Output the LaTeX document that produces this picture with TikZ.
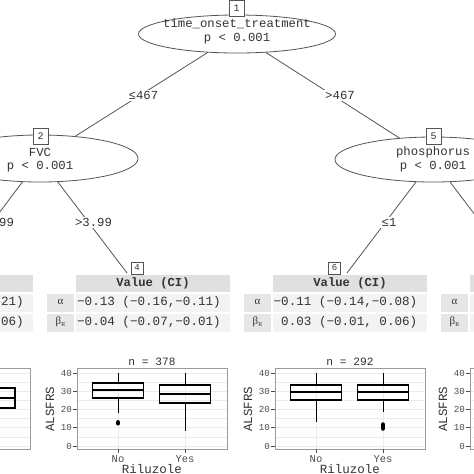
\documentclass[tikz,border=0pt]{standalone}
\usepackage{fontspec}
\setmainfont{Liberation Mono}
\newfontfamily\grk{Liberation Serif}
\usetikzlibrary{shapes.geometric}
\definecolor{ink}{HTML}{333333}
\definecolor{edgec}{HTML}{555555}
\definecolor{hdr}{HTML}{E0E0E0}
\definecolor{labc}{HTML}{E6E6E6}
\definecolor{cellc}{HTML}{F3F3F3}
\definecolor{gridc}{HTML}{EBEBEB}
\definecolor{framec}{HTML}{9A9A9A}
\definecolor{tickc}{HTML}{4D4D4D}
\newcommand\gridpanel[1]{%
 \begin{scope}[xshift=#1pt]
  \fill[white] (77,368) rectangle (227,449);
  \foreach \v in {5,15,25,35} \draw[minorgrid] (77,{446-1.825*\v}) -- (227,{446-1.825*\v});
  \foreach \v in {0,10,...,40} \draw[majorgrid] (77,{446-1.825*\v}) -- (227,{446-1.825*\v});
  \draw[majorgrid] (118,368) -- (118,449);
  \draw[majorgrid] (185,368) -- (185,449);
  \draw[framec,line width=0.8pt] (77,368) rectangle (227,449);
  \foreach \v in {0,10,...,40} \draw[tickln] (73,{446-1.825*\v}) -- (77,{446-1.825*\v});
  \draw[tickln] (118,449) -- (118,453);
  \draw[tickln] (185,449) -- (185,453);
 \end{scope}}
\newcommand\ytlabels[2]{%
  \foreach \v in {0,10,...,40} \node[ticklab,anchor=east] (#1\v) at (#2,{446-1.825*\v}) {\v};}
\begin{document}
\begin{tikzpicture}[x=1pt,y=-1pt,
  inner/.style={ellipse,draw=edgec,line width=0.8pt,inner sep=0pt},
  idbox/.style={draw=edgec,line width=0.8pt,fill=white,inner sep=0pt,text=ink,font=\fontsize{10}{10}\selectfont,minimum width=15pt,minimum height=16pt},
  tidbox/.style={draw=edgec,line width=0.8pt,fill=white,inner sep=0pt,text=ink,font=\fontsize{9}{9}\selectfont,minimum width=12pt,minimum height=12pt},
  treetxt/.style={text=ink,font=\fontsize{12.3}{14}\selectfont,inner sep=0pt},
  edgelab/.style={fill=white,text=ink,font=\fontsize{12.3}{14}\selectfont,inner sep=1.5pt},
  conn/.style={draw=edgec,line width=0.8pt},
  valtxt/.style={text=ink,font=\fontsize{12.6}{14}\selectfont,inner sep=0pt},
  hdrtxt/.style={text=ink,font=\fontsize{12.2}{14}\bfseries\selectfont,inner sep=0pt},
  grktxt/.style={text=ink,font=\grk\fontsize{11}{12}\selectfont,inner sep=0pt},
  minorgrid/.style={draw=gridc,line width=0.4pt},
  majorgrid/.style={draw=gridc,line width=0.8pt},
  tickln/.style={draw=tickc,line width=0.8pt},
  ticklab/.style={text=tickc,font=\fontsize{9.2}{10}\selectfont,inner sep=0pt},
  axtitle/.style={text=ink,font=\fontsize{12.5}{13}\selectfont,inner sep=0pt},
  xlab/.style={text=tickc,font=\fontsize{10.5}{11}\selectfont,inner sep=0pt},
  ptitle/.style={text=ink,font=\fontsize{11.2}{12}\selectfont,inner sep=0pt},
  bx/.style={draw=black,line width=1.1pt},
  wh/.style={draw=black,line width=0.9pt},
  med/.style={draw=black,line width=2.2pt},
  outl/.style={draw=black,line width=4.5pt,line cap=round}]
\useasboundingbox (0,0) rectangle (474,474);
\fill[white] (0,0) rectangle (474,474);

% ---------- inner nodes ----------
\node[inner,minimum width=197pt,minimum height=38pt] (n1) at (237,34) {};
\node[inner,minimum width=196pt,minimum height=47pt] (n2) at (40,158.5) {};
\node[inner,minimum width=196pt,minimum height=45pt] (n5) at (433,159.5) {};
\coordinate (e3) at (-46,273);
\coordinate (e4) at (127,273);
\coordinate (e6) at (347,273);
\coordinate (e7) at (519,273);

% ---------- connectors ----------
\draw[conn] (n1) -- (n2);
\draw[conn] (n1) -- (n5);
\draw[conn] (n2) -- (e3);
\draw[conn] (n2) -- (e4);
\draw[conn] (n5) -- (e6);
\draw[conn] (n5) -- (e7);

% ---------- node texts ----------
\node[treetxt] (t1a) at (237,24) {time\_onset\_treatment};
\node[treetxt] (t1b) at (237,38.5) {p < 0.001};
\node[treetxt] (t2a) at (40,152) {FVC};
\node[treetxt] (t2b) at (40,167) {p < 0.001};
\node[treetxt] (t5a) at (433,152.5) {phosphorus};
\node[treetxt] (t5b) at (433,167) {p < 0.001};

% ---------- id boxes ----------
\node[idbox] (b1) at (236.5,8) {1};
\node[idbox] (b2) at (40.5,136) {2};
\node[idbox] (b5) at (433.5,136) {5};
\node[tidbox] (b4) at (137,268) {4};
\node[tidbox] (b6) at (334.5,268) {6};

% ---------- edge labels ----------
\node[edgelab] (l1) at (143.5,95.5) {≤467};
\node[edgelab] (l2) at (340,95.5) {>467};
\node[edgelab] (l3) at (-4.5,222.5) {≤3.99};
\node[edgelab] (l4) at (93.5,222.5) {>3.99};
\node[edgelab] (l5) at (389,222.5) {≤1};

% ---------- tables ----------
% table 3 (partial)
\fill[hdr] (-121,274.5) rectangle (33,292);
\fill[cellc] (-121,293.5) rectangle (33,311.5);
\fill[cellc] (-121,313.5) rectangle (33,331.5);
\node[valtxt,anchor=east] (v3a) at (24,302) {21)};
\node[valtxt,anchor=east] (v3b) at (24,322) {06)};
% table 4
\fill[hdr] (76,274.5) rectangle (230,292);
\fill[labc] (47,293.5) rectangle (74,311.5);
\fill[labc] (47,313.5) rectangle (74,331.5);
\fill[cellc] (76,293.5) rectangle (230,311.5);
\fill[cellc] (76,313.5) rectangle (230,331.5);
\node[hdrtxt] (h4) at (153,283.5) {Value (CI)};
\node[grktxt] (a4) at (60.5,302) {α};
\node[grktxt] (r4) at (60.5,322) {β\raisebox{-1.5pt}{\fontsize{6}{6}\selectfont R}};
\node[valtxt,anchor=east] (v4a) at (221,302) {−0.13 (−0.16,−0.11)};
\node[valtxt,anchor=east] (v4b) at (221,322) {−0.04 (−0.07,−0.01)};
% table 6
\fill[hdr] (273,274.5) rectangle (427,292);
\fill[labc] (244,293.5) rectangle (271,311.5);
\fill[labc] (244,313.5) rectangle (271,331.5);
\fill[cellc] (273,293.5) rectangle (427,311.5);
\fill[cellc] (273,313.5) rectangle (427,331.5);
\node[hdrtxt] (h6) at (350,283.5) {Value (CI)};
\node[grktxt] (a6) at (257.5,302) {α};
\node[grktxt] (r6) at (257.5,322) {β\raisebox{-1.5pt}{\fontsize{6}{6}\selectfont R}};
\node[valtxt,anchor=east] (v6a) at (417.5,302) {−0.11 (−0.14,−0.08)};
\node[valtxt,anchor=east] (v6b) at (417.5,322) {0.03 (−0.01, 0.06)};
% table 7 (partial)
\fill[hdr] (470,274.5) rectangle (624,292);
\fill[labc] (441,293.5) rectangle (468,311.5);
\fill[labc] (441,313.5) rectangle (468,331.5);
\fill[cellc] (470,293.5) rectangle (624,311.5);
\fill[cellc] (470,313.5) rectangle (624,331.5);
\node[grktxt] (a7) at (454.5,302) {α};
\node[grktxt] (r7) at (454.5,322) {β\raisebox{-1.5pt}{\fontsize{6}{6}\selectfont R}};

% ---------- plots ----------
% left partial panel
\gridpanel{-197}
\draw[bx] (-40,388) rectangle (15,408);
\draw[med] (-40,398) -- (15,398);

% middle panel (node 4)
\gridpanel{0}
\node[ptitle] (pt4) at (152,362) {n = 378};
\ytlabels{y4-}{72}
\node[axtitle,rotate=90] (ya4) at (50,409) {ALSFRS};
\node[xlab] (xn4) at (118,459) {No};
\node[xlab] (xy4) at (185,459) {Yes};
\node[axtitle,anchor=base] (xa4) at (152,473.5) {Riluzole};
\draw[wh] (118,373) -- (118,383);
\draw[wh] (118,398) -- (118,413);
\draw[bx] (92.5,383) rectangle (143.5,398);
\draw[med] (92.5,390) -- (143.5,390);
\draw[outl] (118,422.3) -- (118,423.3);
\draw[wh] (185,373) -- (185,385);
\draw[wh] (185,403) -- (185,431);
\draw[bx] (159.5,385) rectangle (210.5,403);
\draw[med] (159.5,394) -- (210.5,394);

% right panel (node 6)
\gridpanel{198}
\node[ptitle] (pt6) at (350,362) {n = 292};
\ytlabels{y6-}{270}
\node[axtitle,rotate=90] (ya6) at (248,409) {ALSFRS};
\node[xlab] (xn6) at (316,459) {No};
\node[xlab] (xy6) at (383,459) {Yes};
\node[axtitle,anchor=base] (xa6) at (350,473.5) {Riluzole};
\draw[wh] (316,373) -- (316,385);
\draw[wh] (316,400) -- (316,422);
\draw[bx] (290.5,385) rectangle (341.5,400);
\draw[med] (290.5,392) -- (341.5,392);
\draw[wh] (383,373) -- (383,385);
\draw[wh] (383,400) -- (383,412);
\draw[bx] (357.5,385) rectangle (408.5,400);
\draw[med] (357.5,392) -- (408.5,392);
\draw[outl] (383,424.5) -- (383,428.5);

% right partial panel
\gridpanel{393}
\ytlabels{y7-}{465}
\node[axtitle,rotate=90] (ya7) at (443,409) {ALSFRS};
\end{tikzpicture}
\end{document}
